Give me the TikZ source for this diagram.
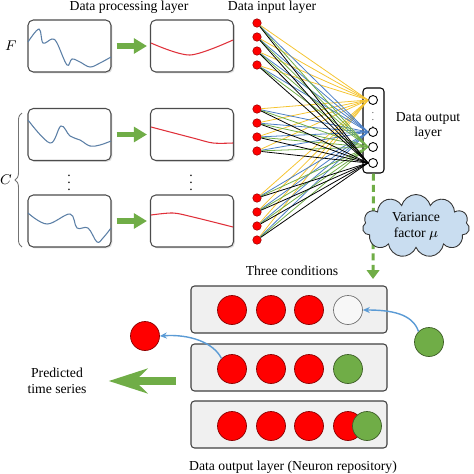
\documentclass[tikz,border=0pt]{standalone}
\usepackage{fontspec}
\setmainfont{Liberation Serif}
\usetikzlibrary{arrows.meta,shapes.symbols,shadows,decorations.pathreplacing}
\definecolor{serblue}{HTML}{5B7FA6}
\definecolor{fitred}{HTML}{E0303A}
\definecolor{arrgreen}{HTML}{70AD47}
\definecolor{netyellow}{HTML}{F5C431}
\definecolor{netblue}{HTML}{4A7EC4}
\definecolor{cloudblue}{HTML}{C9DDF0}
\definecolor{movblue}{HTML}{5B9BD5}
\tikzset{
  plotbox/.style={draw=black!70, line width=0.6pt, fill=white, rounded corners=3pt,
    minimum width=1.66cm, minimum height=1.04cm,
    drop shadow={opacity=0.25, shadow xshift=0.8pt, shadow yshift=-0.8pt}},
  sercurve/.style={serblue, line width=0.6pt},
  fitcurve/.style={fitred, line width=0.6pt},
  steparrow/.style={arrgreen, line width=3.4pt, shorten <=0.1cm, shorten >=0.06cm,
    -{Triangle[width=8.5pt,length=7.5pt]}},
  indot/.style={circle, fill=red, draw=red!60!black, line width=0.3pt, minimum size=0.17cm, inner sep=0},
  outdot/.style={circle, fill=white, draw=black, line width=0.5pt, minimum size=0.18cm, inner sep=0},
  netline/.style={line width=0.45pt},
  rowbox/.style={draw=black!75, fill=black!6, rounded corners=2pt, line width=0.6pt,
    minimum width=3.92cm, minimum height=0.94cm},
  redball/.style={circle, fill=red, draw=red!55!black, line width=0.4pt, minimum size=0.58cm, inner sep=0},
  greenball/.style={circle, fill=arrgreen, draw=arrgreen!55!black, line width=0.4pt, minimum size=0.58cm, inner sep=0},
  emptyball/.style={circle, fill=black!3, draw=black!55, line width=0.4pt, minimum size=0.58cm, inner sep=0},
  movearrow/.style={movblue, line width=0.8pt, -{Stealth[length=4pt,width=3.5pt]}},
  bigarrow/.style={arrgreen, line width=4.5pt, shorten >=0.32cm, -{Stealth[width=14pt,length=22pt,inset=7pt]}},
  dasharrow/.style={arrgreen, line width=1.7pt, dash pattern=on 4pt off 2.5pt,
    -{Triangle[width=7pt,length=5pt]}}
}

\begin{document}
\begin{tikzpicture}[x=0.02cm, y=-0.02cm, font=\fontsize{7.8}{9}\selectfont]
  \useasboundingbox (0,0) rectangle (474,474);

  %%% titles
  \node (procT) at (129,7) {Data processing layer};
  \node (inT) at (272,7) {Data input layer};

  %%% time series boxes
  \node[plotbox] (rawF) at (69.5,46) {};
  \node[plotbox] (fitF) at (192,46) {};
  \node[plotbox] (rawC) at (69.5,134.5) {};
  \node[plotbox] (fitC) at (192,134.5) {};
  \node[plotbox] (rawN) at (69.5,221) {};
  \node[plotbox] (fitN) at (192,221) {};

  \draw[sercurve] plot[smooth, tension=0.6] coordinates {(28,42) (39,29) (43,43) (52,39) (57,43) (67,65) (72,59) (80,62) (90,67) (100,63) (111,57)};
  \draw[fitcurve] plot[smooth] coordinates {(151,43) (190,55) (233,40)};
  \draw[sercurve] plot[smooth, tension=0.6] coordinates {(28,120) (50,143) (61,126) (70,136) (80,140) (90,146) (100,145) (111,141)};
  \draw[fitcurve] plot[smooth] coordinates {(151,127) (193,138) (213,143) (233,143)};
  \draw[sercurve] plot[smooth, tension=0.6] coordinates {(28,213) (47,224) (70,214) (77,228) (88,228) (97,242) (103,238) (111,228)};
  \draw[fitcurve] plot[smooth] coordinates {(151,215) (173,213) (193,217) (233,227)};

  \draw[steparrow] (rawF) -- (fitF);
  \draw[steparrow] (rawC) -- (fitC);
  \draw[steparrow] (rawN) -- (fitN);

  \node (vdL) at (69,178) {$\vdots$};
  \node (vdR) at (191,178) {$\vdots$};

  \node (labF) at (11,46) {\fontsize{8.5}{10}\selectfont$F$};
  \node (labC) at (6,180) {\fontsize{8.5}{10}\selectfont$C$};
  \draw[black!55, line width=0.5pt, decorate, decoration={brace, amplitude=4pt}] (22,247) -- (22,113);

  %%% network
  \node[draw=black, fill=white, rounded corners=2pt, line width=0.6pt,
    minimum width=0.42cm, minimum height=1.7cm] (obox) at (373.5,130.5) {};
  \node[text=black!60] (vdO) at (373,115) {\fontsize{6}{6}\selectfont$\vdots$};
  \foreach \y [count=\o] in {100,132,147,163}
    \node[outdot] (out\o) at (373,\y) {};
  \foreach \y [count=\i] in {23,37,51,65,109,123,137,151,198,212,226,240}
    \node[indot] (in\i) at (257,\y) {};

  \foreach \o/\c in {1/netyellow,2/netblue,3/arrgreen,4/black}
    \foreach \i in {1,...,12}
      \draw[netline, \c] (in\i) -- (out\o.west);

  \node[align=center] (outT) at (428,126) {Data output\\layer};

  %%% variance factor
  \coordinate (dashEnd) at (373,279);
  \draw[dasharrow] (obox.south) -- (dashEnd);
  \node[cloud, cloud puffs=11, aspect=1.7, fill=cloudblue, draw=black!80, line width=0.5pt,
    minimum width=2.14cm, minimum height=1.26cm, inner sep=0, align=center] (mu) at (416,226) {Variance\\factor $\mu$};

  %%% neuron repository
  \node (condT) at (292,271) {Three conditions};
  \node[rowbox] (row1) at (289,309.5) {};
  \node[rowbox] (row2) at (289,367.5) {};
  \node[rowbox] (row3) at (289,424.5) {};
  \foreach \r/\y in {1/310,2/369,3/426}
    \foreach \c/\x in {1/232,2/271,3/309}
      \node[redball] (c\r\c) at (\x,\y) {};
  \node[emptyball] (c14) at (348,310) {};
  \node[greenball] (c24) at (348,369) {};
  \node[redball] (c34) at (348,426) {};
  \node[greenball] (gadd) at (367,426) {};

  \node[greenball] (gnew) at (429,342) {};
  \node[redball] (rold) at (145,336) {};
  \draw[movearrow] (gnew.north west) .. controls +(-6,-18) and +(28,0) .. (c14.east);
  \draw[movearrow] (c21.north west) .. controls +(-8,-16) and +(30,-2) .. (rold.east);

  \node[align=center] (pred) at (57,381) {Predicted\\time series};
  \coordinate (bigS) at (176,381);
  \draw[bigarrow] (bigS) -- (pred.east);

  \node (repoT) at (293,467) {Data output layer (Neuron repository)};
\end{tikzpicture}
\end{document}
